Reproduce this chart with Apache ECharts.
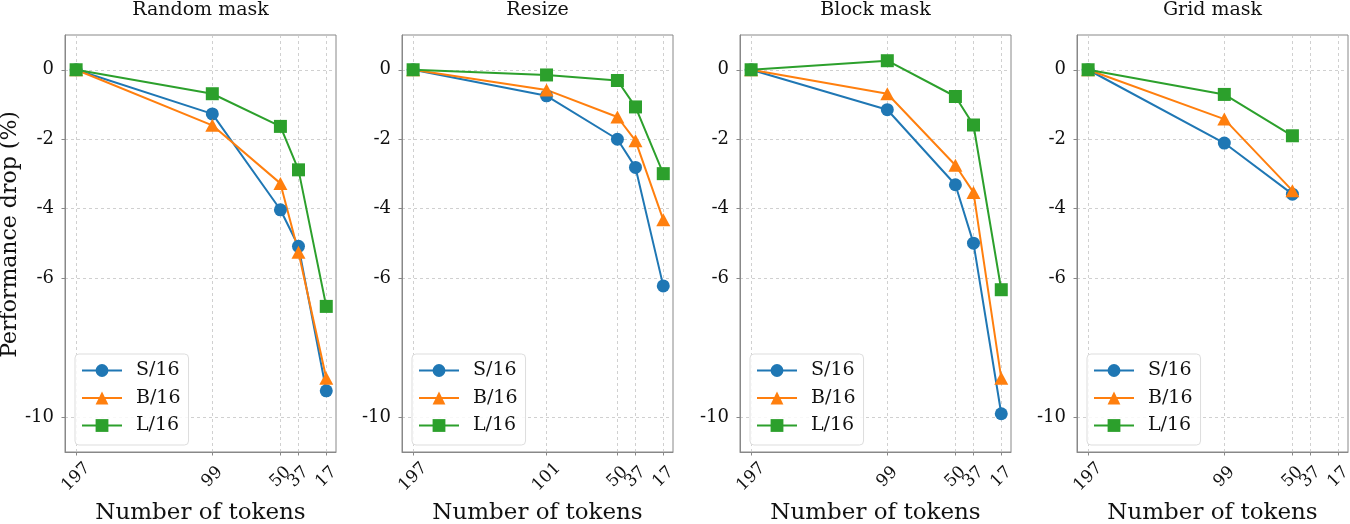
<!DOCTYPE html>
<html>
<head>
<meta charset="utf-8">
<script src="https://cdn.jsdelivr.net/npm/echarts@6/dist/echarts.min.js"></script>
<style>
  html, body { margin: 0; padding: 0; background: #fff; }
  #chart { width: 1350px; height: 524px; }
</style>
</head>
<body>
<div id="chart"></div>
<script>
// panel titles and token counts (x)
const titles = ['Random mask', 'Resize', 'Block mask', 'Grid mask'];
const tokens = [
  [197, 99, 50, 37, 17],
  [197, 101, 50, 37, 17],
  [197, 99, 50, 37, 17],
  [197, 99, 50]
];
const xTicks = [
  [197, 99, 50, 37, 17],
  [197, 101, 50, 37, 17],
  [197, 99, 50, 37, 17],
  [197, 99, 50, 37, 17]
];
const yTicks = [0, -2, -4, -6, -10];

// performance drop (%) per model, one list per panel
const s16 = [
  [0, -1.27, -4.03, -5.08, -9.24],
  [0, -0.75, -2.0, -2.81, -6.22],
  [0, -1.15, -3.31, -4.99, -9.9],
  [0, -2.11, -3.58]
];
const b16 = [
  [0, -1.6, -3.27, -5.25, -8.88],
  [0, -0.58, -1.36, -2.04, -4.32],
  [0, -0.69, -2.75, -3.53, -8.88],
  [0, -1.42, -3.48]
];
const l16 = [
  [0, -0.69, -1.63, -2.88, -6.81],
  [0, -0.15, -0.31, -1.07, -2.99],
  [0, 0.26, -0.77, -1.59, -6.33],
  [0, -0.71, -1.9]
];

const models = [
  { name: 'S/16', data: s16, color: '#1f77b4', symbol: 'circle', size: 13 },
  { name: 'B/16', data: b16, color: '#ff7f0e', symbol: 'triangle', size: [14, 13] },
  { name: 'L/16', data: l16, color: '#2ca02c', symbol: 'rect', size: 13 }
];

const font = 'DejaVu Serif';
const gridLefts = [65, 402, 740, 1077];
const gridW = 271;
const spine = '#888';
const dash = { color: '#c4c4c4', type: [3, 3], width: 0.8 };

const grid = [], xAxis = [], yAxis = [], title = [], legend = [], series = [];

gridLefts.forEach((left, i) => {
  grid.push({
    left: left, width: gridW, top: 35, height: 417,
    outerBoundsMode: 'none', containLabel: false,
    show: true, borderColor: spine, borderWidth: 1, backgroundColor: 'transparent'
  });
  title.push({
    text: titles[i],
    left: left + gridW / 2, top: 1, padding: 0, textAlign: 'center',
    textStyle: { fontFamily: font, fontSize: 19, fontWeight: 'normal', color: '#111' }
  });
  xAxis.push({
    type: 'value', gridIndex: i, inverse: true, min: 10, max: 205,
    name: 'Number of tokens', nameLocation: 'middle', nameGap: 48,
    nameTextStyle: { fontFamily: font, fontSize: 23, color: '#111' },
    axisLine: { onZero: false, lineStyle: { color: spine } },
    axisTick: { show: true, length: 3.5, lineStyle: { color: spine }, customValues: xTicks[i] },
    axisLabel: {
      customValues: xTicks[i], rotate: 45, align: 'center', verticalAlign: 'middle',
      margin: 25, fontFamily: font, fontSize: 17, color: '#111'
    },
    splitLine: { show: true, lineStyle: dash }
  });
  yAxis.push({
    type: 'value', gridIndex: i, min: -11, max: 1,
    name: i === 0 ? 'Performance drop (%)' : '', nameLocation: 'middle', nameGap: 41,
    nameTextStyle: { fontFamily: font, fontSize: 22, color: '#111', padding: [0, 0, 0, 18] },
    axisLine: { show: true, onZero: false, lineStyle: { color: spine } },
    axisTick: { show: true, length: 3.5, lineStyle: { color: spine }, customValues: yTicks },
    axisLabel: { customValues: yTicks, margin: 11, fontFamily: font, fontSize: 18, color: '#111' },
    splitLine: { show: true, lineStyle: dash }
  });
  legend.push({
    left: left + 10, top: 354, orient: 'vertical',
    data: models.map(m => m.name),
    itemWidth: 40, itemHeight: 16, itemGap: 8.5,
    padding: [7, 8, 10, 6],
    backgroundColor: 'rgba(255,255,255,0.85)', borderColor: '#ddd', borderWidth: 1, borderRadius: 4,
    textStyle: { fontFamily: font, fontSize: 19, color: '#111', padding: [0, 0, 0, 9] }
  });
  models.forEach(m => {
    series.push({
      name: m.name, type: 'line', xAxisIndex: i, yAxisIndex: i,
      data: tokens[i].map((t, k) => [t, m.data[i][k]]),
      symbol: m.symbol, symbolSize: m.size, showAllSymbol: true,
      lineStyle: { color: m.color, width: 2 },
      itemStyle: { color: m.color },
      emphasis: { disabled: true },
      animation: false
    });
  });
});

const chart = echarts.init(document.getElementById('chart'));
chart.setOption({
  animation: false,
  color: models.map(m => m.color),
  title, grid, xAxis, yAxis, legend, series
});
</script>
</body>
</html>
